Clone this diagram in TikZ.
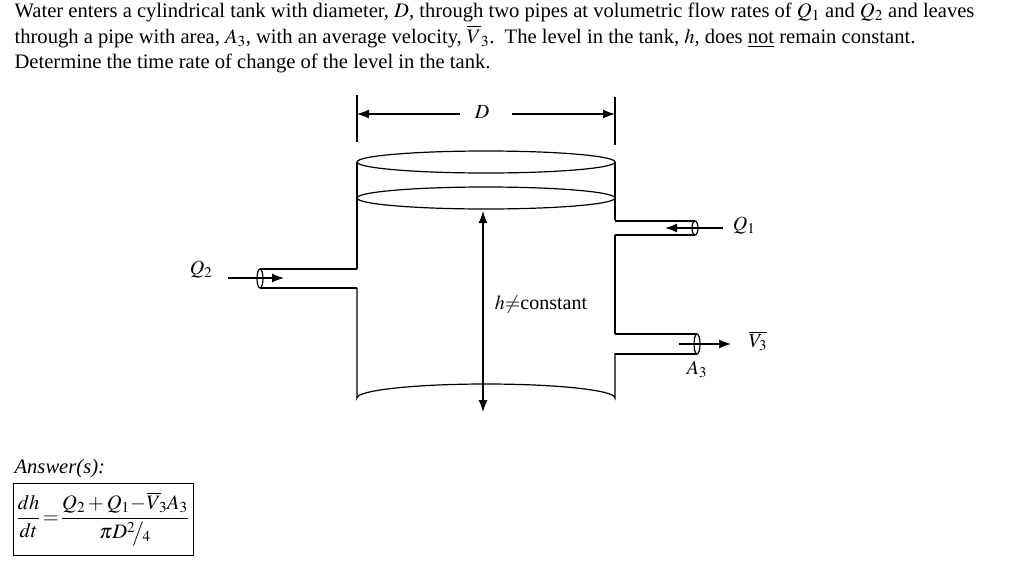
\documentclass[tikz,border=0pt]{standalone}
\usepackage{mathptmx}
\usepackage{fontspec}
\setmainfont{Liberation Serif}
\usetikzlibrary{arrows.meta}
\begin{document}
\begin{tikzpicture}[x=1pt,y=-1pt,line width=1.2pt,
  txt/.style={anchor=base west,inner sep=0,font=\fontsize{20.6pt}{24pt}\selectfont\rmfamily},
  lbl/.style={inner sep=0,font=\fontsize{20pt}{24pt}\selectfont\rmfamily},
  arr/.style={-{Latex[length=12pt,width=9pt]}}]
\useasboundingbox (0,0) rectangle (1024,568);
% problem text
\node[txt] (l1) at (14,17) {Water enters a cylindrical tank with diameter, $D$, through two pipes at volumetric flow rates of $Q_1$ and $Q_2$ and leaves};
\node[txt] (l2) at (14,43) {through a pipe with area, $A_3$, with an average velocity, $\overline{V}_3$.\ \ The level in the tank, $h$, does \underline{not} remain constant.};
\node[txt] (l3) at (14,68) {Determine the time rate of change of the level in the tank.};
% tank
\draw (486,162) ellipse (129 and 11);
\draw (486,198) ellipse (129 and 11);
\draw (357,162) -- (357,269);
\draw (357,288) -- (357,398) arc[start angle=180,end angle=360,x radius=129,y radius=14] -- (615,353);
\draw (615,334) -- (615,235);
\draw (615,220) -- (615,162);
% Q1 pipe
\draw (615,221) -- (695,221);
\draw (615,235) -- (695,235);
\draw (695,228) ellipse (3 and 7);
\coordinate (q1s) at (723,228); \coordinate (q1e) at (665,228);
\draw[arr] (q1s) -- (q1e);
\node[lbl] (Q1) at (744,226) {$Q_1$};
% V3 pipe
\draw (615,334) -- (697,334);
\draw (615,354) -- (697,354);
\draw (697,344) ellipse (3 and 10);
\coordinate (v3s) at (679,344); \coordinate (v3e) at (731,344);
\draw[arr] (v3s) -- (v3e);
\node[lbl] (V3) at (758,341) {$\overline{V_{3}}$};
\node[lbl] (A3) at (697,369) {$A_3$};
% Q2 pipe
\draw (260,269) -- (357,269);
\draw (260,288) -- (357,288);
\draw (260,278.5) ellipse (3 and 9.5);
\coordinate (q2s) at (228,278); \coordinate (q2e) at (284,278);
\draw[arr] (q2s) -- (q2e);
\node[lbl] (Q2) at (201,270) {$Q_2$};
% h
\coordinate (hb) at (483,412); \coordinate (ht) at (483,211);
\draw[{Latex[length=12pt,width=9pt]}-{Latex[length=12pt,width=9pt]}] (ht) -- (hb);
\node[lbl] (h) at (541,304) {$h$\ensuremath{\neq}constant};
% D
\draw (357,95) -- (357,142);
\draw (615,97) -- (615,145);
\node[lbl] (D) at (482,112) {$D$};
\coordinate (dl) at (357,114); \coordinate (dr) at (615,114);
\draw[arr] (460,114) -- (dl);
\draw[arr] (512,114) -- (dr);
% answer
\node[txt] (ans) at (14,473) {\textit{Answer(s):}};
\draw[line width=1pt] (13,483) rectangle (193,555);
\node[lbl,anchor=west] (eq) at (16,519) {\fontsize{20.5pt}{26pt}\selectfont$\displaystyle\frac{dh}{dt}\!=\!\frac{Q_2+Q_1\!-\!\overline{V}_{\!3}A_3}{\pi D^2\!\big/\!_{4}}$};
\end{tikzpicture}
\end{document}
